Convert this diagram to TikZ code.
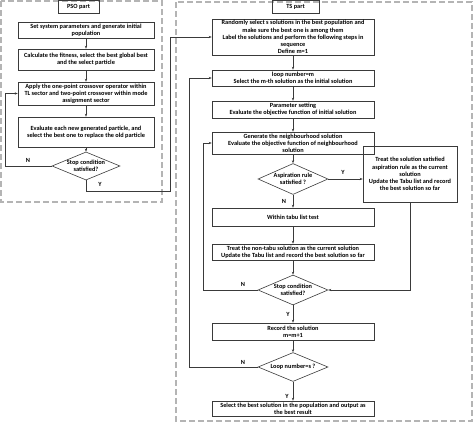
\documentclass[tikz,border=0pt]{standalone}
\usepackage{fontspec}
\setmainfont{Carlito}
\usetikzlibrary{shapes.geometric,arrows.meta}
\definecolor{ln}{HTML}{3A3A3A}
\definecolor{dsh}{HTML}{B4B4B4}
\tikzset{
  fnt/.style={font=\fontsize{6.3}{7.1}\selectfont\bfseries,text=black},
  proc/.style={draw=ln,line width=0.6pt,rectangle,inner sep=0.5pt,align=center,fnt},
  dec/.style={draw=ln,line width=0.6pt,diamond,aspect=2.3,inner sep=0pt,align=center,fnt},
  conn/.style={draw=ln,line width=0.6pt,-{Stealth[length=3pt,width=2.4pt]}},
  lbl/.style={fnt},
  part/.style={draw=dsh,line width=1.4pt,dash pattern=on 6pt off 3pt},
  ttl/.style={draw=ln,line width=0.6pt,rectangle,inner sep=0pt,fnt}
}
\begin{document}
\begin{tikzpicture}[x=1pt,y=-1pt]
\useasboundingbox (0,0) rectangle (474,423);
% part frames
\draw[part] (1,1) rectangle (162,202);
\draw[part] (176,2) rectangle (472,421);
\node[ttl,minimum width=41pt,minimum height=13pt] (psot) at (78.5,6.5) {PSO part};
\node[ttl,minimum width=47pt,minimum height=13pt] (tst) at (295.5,6.5) {TS part};
% PSO
\node[proc,minimum width=136pt,minimum height=16pt] (p1) at (86,30) {Set system parameters and generate initial\\population};
\node[proc,minimum width=136pt,minimum height=21pt] (p2) at (86,59.5) {Calculate the fitness, select the best global best\\and the select particle};
\node[proc,minimum width=136pt,minimum height=23pt] (p3) at (86,93.5) {Apply the one-point crossover operator within\\TL sector and two-point crossover within mode\\assignment sector};
\node[proc,minimum width=136pt,minimum height=30pt] (p4) at (86,132) {Evaluate each new generated particle, and\\select the best one to replace the old particle};
\node[dec,minimum width=68pt,minimum height=20pt] (pd) at (86,166) {Stop condition\\satisfied?};
% TS
\node[proc,minimum width=162pt,minimum height=36pt] (t1) at (293,37) {Randomly select s solutions in the best population and\\make sure the best one is among them\\Label the solutions and perform the following steps in\\sequence\\Define m=1};
\node[proc,minimum width=162pt,minimum height=16pt] (t2) at (293,78) {loop number=m\\Select the m-th solution as the initial solution};
\node[proc,minimum width=162pt,minimum height=17pt] (t3) at (293,109.5) {Parameter setting\\Evaluate the objective function of initial solution};
\node[proc,minimum width=162pt,minimum height=22pt] (t4) at (293,143) {Generate the neighbourhood solution\\Evaluate the objective function of neighbourhood\\solution};
\node[dec,minimum width=70pt,minimum height=31pt] (asp) at (293,179) {Aspiration rule\\satisfied ?};
\node[proc,minimum width=94pt,minimum height=56pt] (r) at (410,174) {Treat the solution satisfied\\aspiration rule as the current\\solution\\Update the Tabu list and record\\the best solution so far};
\node[proc,minimum width=162pt,minimum height=18pt] (tb) at (293,217) {Within tabu list test};
\node[proc,minimum width=162pt,minimum height=16pt] (nt) at (293,252) {Treat the non-tabu solution as the current solution\\Update the Tabu list and record the best solution so far};
\node[dec,minimum width=70pt,minimum height=30pt] (sd) at (293,290) {Stop condition\\satisfied?};
\node[proc,minimum width=162pt,minimum height=17pt] (rc) at (293,331.5) {Record the solution\\m=m+1};
\node[dec,minimum width=70pt,minimum height=29pt] (lp) at (293,367) {Loop number=s ?};
\node[proc,minimum width=162pt,minimum height=15pt] (fn) at (293,408.5) {Select the best solution in the population and output as\\the best result};
% coordinates
\coordinate (c1) at (5,166);
\coordinate (c2) at (5,93.5);
\coordinate (c3) at (86,191);
\coordinate (c4) at (170,191);
\coordinate (c5) at (170,37);
\coordinate (c6) at (203,290);
\coordinate (c7) at (203,143);
\coordinate (c8) at (189,367);
\coordinate (c9) at (189,78);
\coordinate (c10) at (410,290);
% PSO connectors
\draw[conn] (p1) -- (p2);
\draw[conn] (p2) -- (p3);
\draw[conn] (p3) -- (p4);
\draw[conn] (p4) -- (pd);
\draw[conn] (pd.west) -- (c1) -- (c2) -- (p3.west);
\draw[conn] (pd.south) -- (c3) -- (c4) -- (c5) -- (t1.west);
\node[lbl] (nl1) at (28,160) {N};
\node[lbl] (yl1) at (100,184) {Y};
% TS connectors
\draw[conn] (t1) -- (t2);
\draw[conn] (t2) -- (t3);
\draw[conn] (t3) -- (t4);
\draw[conn] (t4) -- (asp);
\draw[conn] (asp) -- (tb);
\draw[conn] (asp.east) -- (r.west |- asp.east);
\draw[conn] (tb) -- (nt);
\draw[conn] (nt) -- (sd);
\draw[conn] (r.south) -- (c10) -- (sd.east);
\draw[conn] (sd) -- (rc);
\draw[conn] (sd.west) -- (c6) -- (c7) -- (t4.west);
\draw[conn] (rc) -- (lp);
\draw[conn] (lp) -- (fn);
\draw[conn] (lp.west) -- (c8) -- (c9) -- (t2.west);
\node[lbl] (yl2) at (343,172) {Y};
\node[lbl] (nl2) at (284,201) {N};
\node[lbl] (nl3) at (243,284) {N};
\node[lbl] (yl3) at (288,314) {Y};
\node[lbl] (nl4) at (243,362) {N};
\node[lbl] (yl4) at (287,396) {Y};
\end{tikzpicture}
\end{document}
